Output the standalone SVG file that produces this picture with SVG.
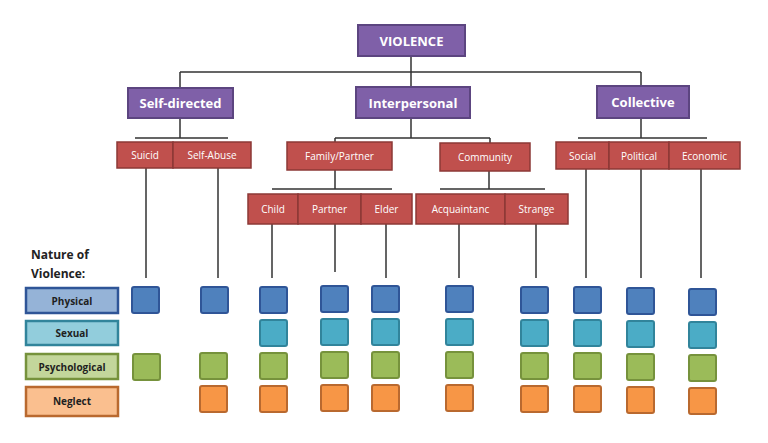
<svg xmlns="http://www.w3.org/2000/svg" width="768" height="443" viewBox="0 0 768 443">
<style>
text{font-family:"Open Sans","Liberation Sans",sans-serif;text-anchor:middle;dominant-baseline:central}
.p{fill:#7f60a8;stroke:#5c4580;stroke-width:2}
.pt{fill:#fff;font-weight:bold;font-size:13px}
.r{fill:#c0504d;stroke:#8c3836;stroke-width:1.5}
.rt{fill:#fff;font-size:10px}
.ln{stroke:#333;stroke-width:1.5;fill:none}
.b{fill:#4f81bd;stroke:#2f5597;stroke-width:2}
.c{fill:#4bacc6;stroke:#31849b;stroke-width:2}
.g{fill:#9bbb59;stroke:#76923c;stroke-width:2}
.o{fill:#f79646;stroke:#b9692f;stroke-width:2}
.lb{fill:#95b3d7;stroke:#2f5597;stroke-width:2.5}
.lc{fill:#92cddc;stroke:#31849b;stroke-width:2.5}
.lg{fill:#c3d69b;stroke:#76923c;stroke-width:2.5}
.lo{fill:#fabf8f;stroke:#b9692f;stroke-width:2.5}
.lt{fill:#1f1f1f;font-weight:bold;font-size:10px}
</style>
<rect width="768" height="443" fill="#fff"/>
<g id="connectors" class="ln">
<path d="M411 56V72M180 72H641M180 72V88M411 72V87M641 72V86"/>
<path d="M180 118V138M135 138H228M411 118V138M335 138H490M335 138V142M490 138V143M641 118V138M578 138H707"/>
<path d="M335 170V189M272 189H392M489 171V189M440 189H545"/>
<path d="M146 168V278M218 168V278M272 224V278M335 224V272M386 224V278M459 224V278M536 224V278M586 169V278M641 169V278M701 169V278"/>
</g>
<g id="violence"><rect class="p" x="358" y="25" width="107" height="31"/><text class="pt" x="411.5" y="41">VIOLENCE</text></g>
<g id="self-directed"><rect class="p" x="128" y="88" width="105" height="30"/><text class="pt" x="180.5" y="103">Self-directed</text></g>
<g id="interpersonal"><rect class="p" x="356" y="87" width="114" height="31"/><text class="pt" x="413" y="102.5">Interpersonal</text></g>
<g id="collective"><rect class="p" x="597" y="86" width="92" height="32"/><text class="pt" x="643" y="102">Collective</text></g>
<g id="suicid"><rect class="r" x="117" y="142" width="56" height="26"/><text class="rt" x="145" y="155">Suicid</text></g>
<g id="self-abuse"><rect class="r" x="173" y="142" width="78" height="26"/><text class="rt" x="212" y="155">Self-Abuse</text></g>
<g id="family"><rect class="r" x="287" y="142" width="105" height="28"/><text class="rt" x="339.5" y="156">Family/Partner</text></g>
<g id="community"><rect class="r" x="440" y="143" width="90" height="28"/><text class="rt" x="485" y="157">Community</text></g>
<g id="social"><rect class="r" x="556" y="142" width="53" height="27"/><text class="rt" x="582.5" y="155.5">Social</text></g>
<g id="political"><rect class="r" x="609" y="142" width="60" height="27"/><text class="rt" x="639" y="155.5">Political</text></g>
<g id="economic"><rect class="r" x="669" y="142" width="71" height="27"/><text class="rt" x="704.5" y="155.5">Economic</text></g>
<g id="child"><rect class="r" x="248" y="194" width="50" height="30"/><text class="rt" x="273" y="209">Child</text></g>
<g id="partner"><rect class="r" x="298" y="194" width="63" height="30"/><text class="rt" x="329.5" y="209">Partner</text></g>
<g id="elder"><rect class="r" x="361" y="194" width="51" height="30"/><text class="rt" x="386.5" y="209">Elder</text></g>
<g id="acquaintanc"><rect class="r" x="416" y="194" width="89" height="30"/><text class="rt" x="460.5" y="209">Acquaintanc</text></g>
<g id="strange"><rect class="r" x="505" y="194" width="63" height="30"/><text class="rt" x="536.5" y="209">Strange</text></g>
<g id="legend">
<text x="31" y="254" style="text-anchor:start;font-weight:bold;font-size:12px;fill:#222">Nature of</text>
<text x="31" y="273" style="text-anchor:start;font-weight:bold;font-size:12px;fill:#222">Violence:</text>
<rect class="lb" x="26" y="288" width="92" height="25"/><text class="lt" x="72" y="300.5">Physical</text>
<rect class="lc" x="26" y="321" width="92" height="24"/><text class="lt" x="72" y="333">Sexual</text>
<rect class="lg" x="26" y="354" width="92" height="25"/><text class="lt" x="72" y="366.5">Psychological</text>
<rect class="lo" x="26" y="387" width="92" height="29"/><text class="lt" x="72" y="401">Neglect</text>
</g>
<g id="squares">
<rect class="b" x="132" y="287" width="27" height="26" rx="2"/>
<rect class="g" x="133" y="354" width="27" height="26" rx="2"/>
<rect class="b" x="201" y="287" width="27" height="26" rx="2"/>
<rect class="g" x="200" y="353" width="27" height="26" rx="2"/>
<rect class="o" x="200" y="386" width="27" height="26" rx="2"/>
<g transform="translate(260,0)"><rect class="b" x="0" y="287" width="27" height="26" rx="2"/><rect class="c" x="0" y="320" width="27" height="26" rx="2"/><rect class="g" x="0" y="353" width="27" height="26" rx="2"/><rect class="o" x="0" y="386" width="27" height="26" rx="2"/></g>
<g transform="translate(321,-1)"><rect class="b" x="0" y="287" width="27" height="26" rx="2"/><rect class="c" x="0" y="320" width="27" height="26" rx="2"/><rect class="g" x="0" y="353" width="27" height="26" rx="2"/><rect class="o" x="0" y="386" width="27" height="26" rx="2"/></g>
<g transform="translate(372,-1)"><rect class="b" x="0" y="287" width="27" height="26" rx="2"/><rect class="c" x="0" y="320" width="27" height="26" rx="2"/><rect class="g" x="0" y="353" width="27" height="26" rx="2"/><rect class="o" x="0" y="386" width="27" height="26" rx="2"/></g>
<g transform="translate(446,-1)"><rect class="b" x="0" y="287" width="27" height="26" rx="2"/><rect class="c" x="0" y="320" width="27" height="26" rx="2"/><rect class="g" x="0" y="353" width="27" height="26" rx="2"/><rect class="o" x="0" y="386" width="27" height="26" rx="2"/></g>
<g transform="translate(521,0)"><rect class="b" x="0" y="287" width="27" height="26" rx="2"/><rect class="c" x="0" y="320" width="27" height="26" rx="2"/><rect class="g" x="0" y="353" width="27" height="26" rx="2"/><rect class="o" x="0" y="386" width="27" height="26" rx="2"/></g>
<g transform="translate(574,0)"><rect class="b" x="0" y="287" width="27" height="26" rx="2"/><rect class="c" x="0" y="320" width="27" height="26" rx="2"/><rect class="g" x="0" y="353" width="27" height="26" rx="2"/><rect class="o" x="0" y="386" width="27" height="26" rx="2"/></g>
<g transform="translate(627,1)"><rect class="b" x="0" y="287" width="27" height="26" rx="2"/><rect class="c" x="0" y="320" width="27" height="26" rx="2"/><rect class="g" x="0" y="353" width="27" height="26" rx="2"/><rect class="o" x="0" y="386" width="27" height="26" rx="2"/></g>
<g transform="translate(689,2)"><rect class="b" x="0" y="287" width="27" height="26" rx="2"/><rect class="c" x="0" y="320" width="27" height="26" rx="2"/><rect class="g" x="0" y="353" width="27" height="26" rx="2"/><rect class="o" x="0" y="386" width="27" height="26" rx="2"/></g>
</g>
</svg>
